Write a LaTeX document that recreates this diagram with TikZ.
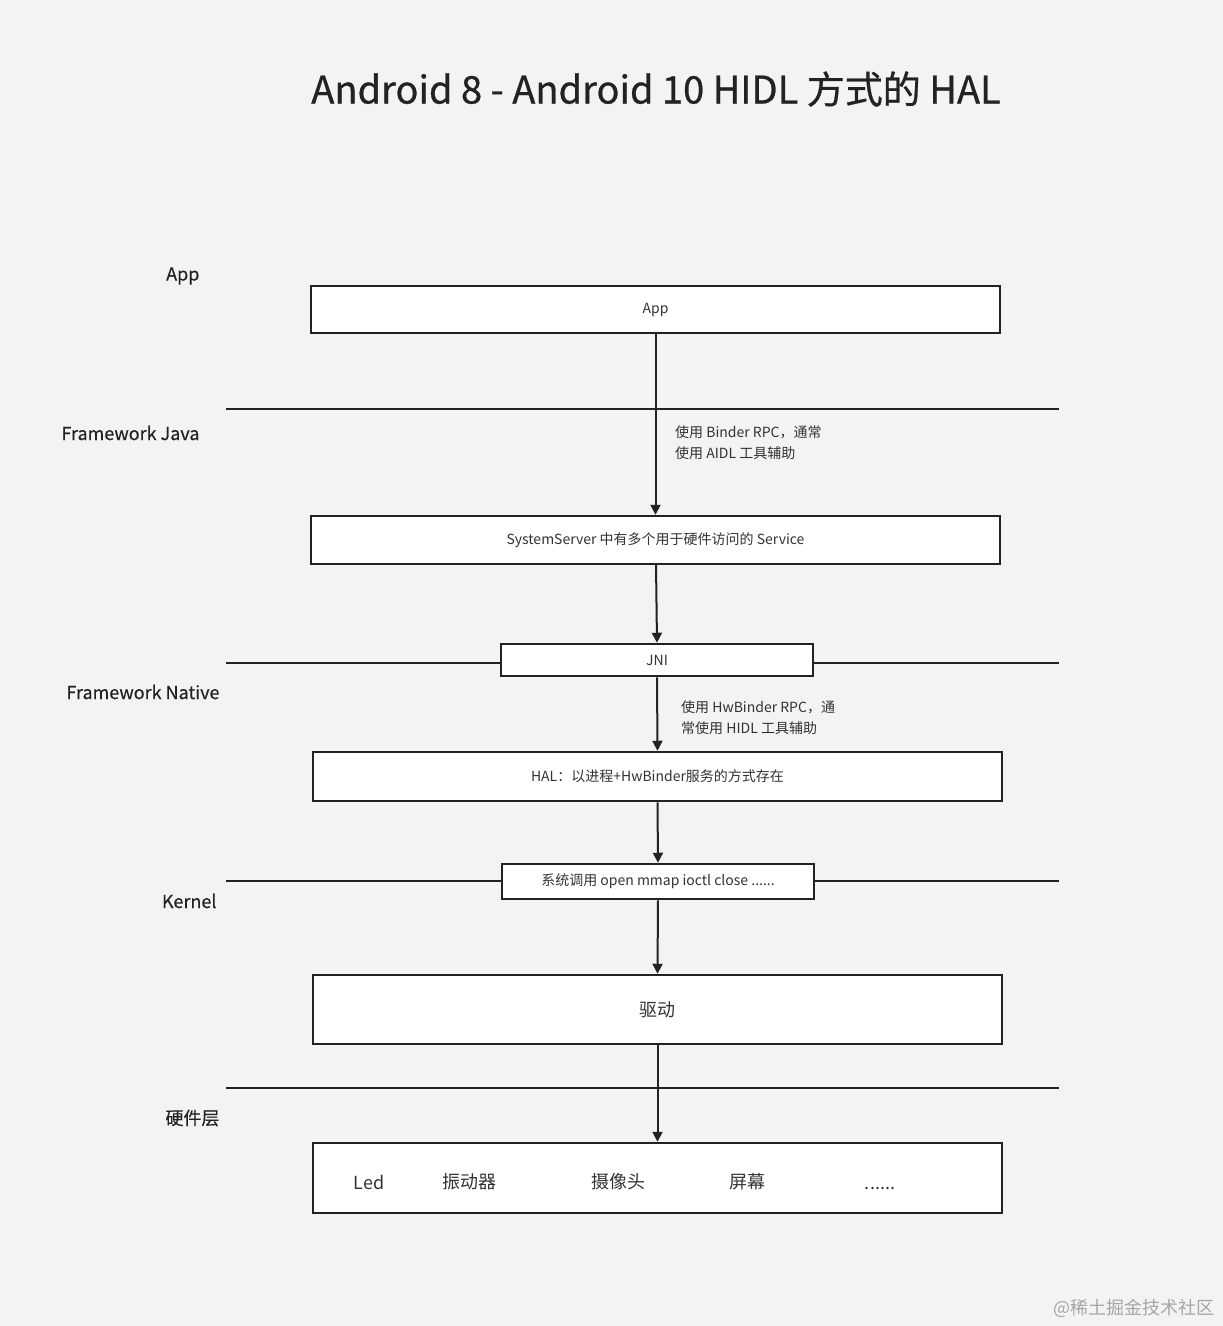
\documentclass[tikz,border=0pt]{standalone}
\usepackage{fontspec}
\setmainfont{Noto Sans CJK SC}
\setsansfont{Noto Sans CJK SC}
\newfontfamily\wmfont{Noto Sans CJK SC}
\newfontfamily\titlefont[FakeBold=0.7]{Noto Sans CJK SC}
\newfontfamily\labelfont[FakeBold=0.3]{Noto Sans CJK SC}
\usetikzlibrary{arrows.meta}
\definecolor{bgc}{HTML}{F3F3F5}
\definecolor{ink}{HTML}{222222}
\definecolor{txt}{HTML}{333333}
\tikzset{
  layerbox/.style={draw=ink, line width=2.5pt, fill=white, inner sep=0pt},
  layerline/.style={draw=ink, line width=2pt},
  flow/.style={draw=ink, line width=2pt, -{Triangle[length=10pt,width=10pt]}},
  boxtext/.style={font=\fontsize{14}{16}\selectfont, text=txt},
  sidelabel/.style={font=\labelfont\fontsize{18}{20}\selectfont, text=ink, anchor=east},
  notetext/.style={font=\fontsize{14}{21}\selectfont, text=txt, anchor=north west, align=left, inner sep=0pt},
  hwtext/.style={font=\fontsize{18}{20}\selectfont, text=txt},
}
\begin{document}
\begin{tikzpicture}[x=1pt,y=-1pt]
\fill[bgc] (0,0) rectangle (1223,1326);
\useasboundingbox (0,0) rectangle (1223,1326);

% title
\node[font=\titlefont\fontsize{38}{44}\selectfont, text=ink] (title) at (656,89) {Android 8 - Android 10 HIDL 方式的 HAL};

% side labels
\node[sidelabel] (lApp) at (203,276) {App};
\node[sidelabel] (lFJ) at (203,433) {Framework Java};
\node[sidelabel] (lFN) at (223,692) {Framework Native};
\node[sidelabel] (lK) at (220,901) {Kernel};
\node[sidelabel] (lHW) at (223,1118) {硬件层};

% layer lines
\coordinate (L1a) at (226,409); \coordinate (L1b) at (1059,409);
\draw[layerline] (L1a) -- (L1b);
\coordinate (L4a) at (226,1088); \coordinate (L4b) at (1059,1088);
\draw[layerline] (L4a) -- (L4b);

% boxes
\node[layerbox, minimum width=689pt, minimum height=47pt] (app) at (655.5,309.5) {};
\node[boxtext] at (app.center) {App};
\node[layerbox, minimum width=689pt, minimum height=48pt] (ss) at (655.5,540) {};
\node[boxtext] at (ss.center) {SystemServer 中有多个用于硬件访问的 Service};
\node[layerbox, minimum width=312pt, minimum height=32pt] (jni) at (657,660) {};
\node[boxtext] at (jni.center) {JNI};
\node[layerbox, minimum width=689pt, minimum height=49pt] (hal) at (657.5,776.5) {};
\node[boxtext] at (hal.center) {HAL：以进程+HwBinder服务的方式存在};
\node[layerbox, minimum width=312pt, minimum height=35pt] (sys) at (658,881.5) {};
\node[boxtext] at (sys.center) {系统调用 open mmap ioctl close ......};
\node[layerbox, minimum width=689pt, minimum height=69pt] (drv) at (657.5,1009.5) {};
\node[hwtext] at (drv.center) {驱动};
\node[layerbox, minimum width=689pt, minimum height=70pt] (hw) at (657.5,1178) {};
\node[hwtext] (hLed) at (369,1182) {Led};
\node[hwtext] (hVib) at (469,1182) {振动器};
\node[hwtext] (hCam) at (618,1182) {摄像头};
\node[hwtext] (hScr) at (747,1182) {屏幕};
\node[hwtext] (hDot) at (880,1188) {......};

% lines through JNI and syscall boxes
\coordinate (L2a) at (226,663); \coordinate (L2b) at (1059,663);
\draw[layerline] (L2a) -- (jni.west |- L2a);
\draw[layerline] (jni.east |- L2a) -- (L2b);
\coordinate (L3a) at (226,881); \coordinate (L3b) at (1059,881);
\draw[layerline] (L3a) -- (sys.west |- L3a);
\draw[layerline] (sys.east |- L3a) -- (L3b);

% arrows
\draw[flow] (app.south) -- (ss.north);
\draw[flow] (656,564) -- (jni.north);
\draw[flow] (jni.south) -- (hal.north);
\draw[flow] (hal.south) -- (sys.north);
\draw[flow] (sys.south) -- (drv.north);
\draw[flow] (drv.south) -- (hw.north);

% notes
\node[notetext] (n1) at (675,426) {使用 Binder RPC，通常\\使用 AIDL 工具辅助};
\node[notetext] (n2) at (681,701) {使用 HwBinder RPC，通\\常使用 HIDL 工具辅助};

% watermark
\node[font=\wmfont\fontsize{18}{20}\selectfont, text=black!35, anchor=east] (wm) at (1218,1308) {@稀土掘金技术社区};
\end{tikzpicture}
\end{document}
